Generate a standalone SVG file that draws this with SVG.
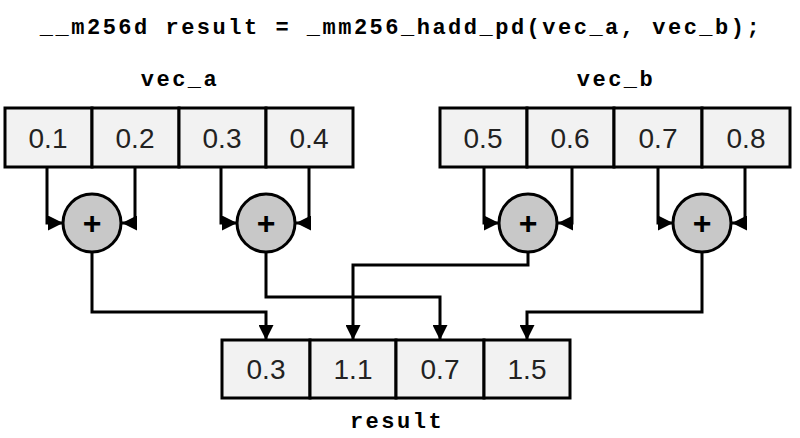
<svg xmlns="http://www.w3.org/2000/svg" width="800" height="438" viewBox="0 0 800 438">
<style>
.c{fill:#f2f2f2;stroke:#000;stroke-width:3}
.n{font-family:"Liberation Sans",Arial,sans-serif;font-size:28px;text-anchor:middle;fill:#222}
.m{font-family:"Liberation Mono","Courier New",monospace;font-weight:bold;font-size:22px;letter-spacing:2.5px;text-anchor:middle;fill:#000}
.w{fill:none;stroke:#000;stroke-width:3}
.p{fill:#c8c8c8;stroke:#000;stroke-width:3}
.pl{font-family:"Liberation Sans",Arial,sans-serif;font-weight:bold;font-size:32px;text-anchor:middle}
</style>
<defs>
<marker id="a" viewBox="0 0 10 10" refX="10" refY="5" markerWidth="5" markerHeight="5" orient="auto" markerUnits="strokeWidth"><path d="M0,0L10,5L0,10z" fill="#000"/></marker>
</defs>
<text class="m" x="401" y="34">__m256d result = _mm256_hadd_pd(vec_a, vec_b);</text>
<g id="vec_a">
<text class="m" x="180" y="86">vec_a</text>
<rect class="c" x="5" y="108" width="87" height="59"/><rect class="c" x="92" y="108" width="87" height="59"/><rect class="c" x="179" y="108" width="87" height="59"/><rect class="c" x="266" y="108" width="87" height="59"/>
<text class="n" x="48" y="148">0.1</text><text class="n" x="135" y="148">0.2</text><text class="n" x="222" y="148">0.3</text><text class="n" x="309" y="148">0.4</text>
</g>
<g id="vec_b">
<text class="m" x="616" y="86">vec_b</text>
<rect class="c" x="440" y="108" width="87" height="59"/><rect class="c" x="527" y="108" width="87" height="59"/><rect class="c" x="614" y="108" width="88" height="59"/><rect class="c" x="702" y="108" width="88" height="59"/>
<text class="n" x="483" y="148">0.5</text><text class="n" x="570" y="148">0.6</text><text class="n" x="658" y="148">0.7</text><text class="n" x="746" y="148">0.8</text>
</g>
<g id="result">
<rect class="c" x="222" y="340" width="88" height="58"/><rect class="c" x="310" y="340" width="86" height="58"/><rect class="c" x="396" y="340" width="88" height="58"/><rect class="c" x="484" y="340" width="86" height="58"/>
<text class="n" x="266" y="379">0.3</text><text class="n" x="353" y="379">1.1</text><text class="n" x="440" y="379">0.7</text><text class="n" x="527" y="379">1.5</text>
<text class="m" x="397" y="428">result</text>
</g>
<g id="connectors">
<path class="w" d="M47,167V223H63" marker-end="url(#a)"/><path class="w" d="M135,167V223H122" marker-end="url(#a)"/>
<path class="w" d="M221,167V223H237" marker-end="url(#a)"/><path class="w" d="M309,167V223H296" marker-end="url(#a)"/>
<path class="w" d="M484,167V223H499" marker-end="url(#a)"/><path class="w" d="M572,167V223H558" marker-end="url(#a)"/>
<path class="w" d="M658,167V223H673" marker-end="url(#a)"/><path class="w" d="M745,167V223H732" marker-end="url(#a)"/>
<path class="w" d="M92,252V312H266V340" marker-end="url(#a)"/>
<path class="w" d="M266,252V297H440V340" marker-end="url(#a)"/>
<path class="w" d="M528,252V265H353V340" marker-end="url(#a)"/>
<path class="w" d="M702,252V312H527V340" marker-end="url(#a)"/>
</g>
<g id="add1"><circle class="p" cx="92" cy="223" r="29"/><text class="pl" x="92" y="234">+</text></g>
<g id="add2"><circle class="p" cx="266" cy="223" r="29"/><text class="pl" x="266" y="234">+</text></g>
<g id="add3"><circle class="p" cx="528" cy="223" r="29"/><text class="pl" x="528" y="234">+</text></g>
<g id="add4"><circle class="p" cx="702" cy="223" r="29"/><text class="pl" x="702" y="234">+</text></g>
</svg>
